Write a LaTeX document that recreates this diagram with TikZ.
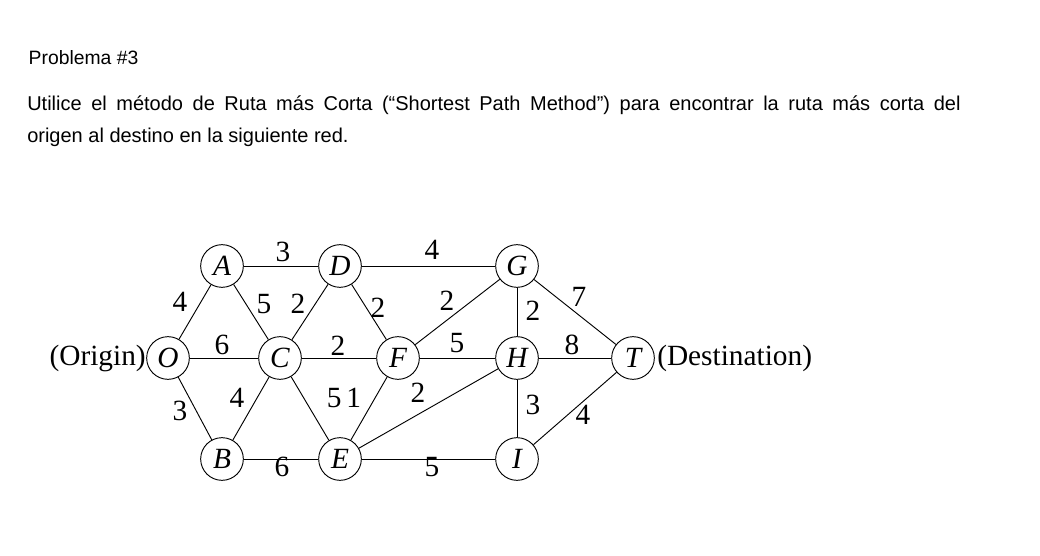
\documentclass[tikz,border=0pt]{standalone}
\usepackage{fontspec}
\setmainfont{Liberation Serif}
\newfontfamily\textsans{Liberation Sans}
\begin{document}
\begin{tikzpicture}[x=0.75pt,y=-0.75pt,
  vtx/.style={circle,draw,line width=0.7pt,minimum size=32pt,inner sep=0pt,font=\fontsize{22}{22}\selectfont\itshape},
  wt/.style={font=\fontsize{22}{22}\selectfont},
  edge/.style={line width=0.7pt}]
\useasboundingbox (0,0) rectangle (1040,556);
\node[anchor=west,font=\textsans\fontsize{14.5}{17}\selectfont] (title) at (24,58) {Problema \#3};
\node[anchor=north west,text width=700pt,align=justify,inner sep=0pt,font=\textsans\fontsize{15}{24}\selectfont] (body) at (27,96)
 {Utilice el método de Ruta más Corta (“Shortest Path Method”) para encontrar la ruta más corta del\linebreak origen al destino en la siguiente red.};
\node[vtx] (O) at (168,358) {O};
\node[vtx] (A) at (222,266) {A};
\node[vtx] (D) at (340,266) {D};
\node[vtx] (G) at (517,266) {G};
\node[vtx] (C) at (280,358) {C};
\node[vtx] (F) at (398,358) {F};
\node[vtx] (H) at (517,358) {H};
\node[vtx] (T) at (633,358) {T};
\node[vtx] (B) at (222,459) {B};
\node[vtx] (E) at (340,459) {E};
\node[vtx] (I) at (517,459) {I};
\node[wt,anchor=east,inner sep=0pt] (orig) at (146,358) {(Origin)};
\node[wt,anchor=west,inner sep=0pt] (dest) at (657,358) {(Destination)};
\foreach \a/\b in {O/A,O/C,O/B,A/D,A/C,D/G,D/C,D/F,C/F,C/B,C/E,F/G,F/H,F/E,G/H,G/T,H/T,H/I,H/E,B/E,E/I,I/T}
  \draw[edge] (\a) -- (\b);
\node[wt] (w1) at (283,252) {3};
\node[wt] (w2) at (432,250) {4};
\node[wt] (w3) at (180,302) {4};
\node[wt] (w4) at (264,304) {5};
\node[wt] (w5) at (298,304) {2};
\node[wt] (w6) at (378,308) {2};
\node[wt] (w7) at (447,301) {2};
\node[wt] (w8) at (533,311) {2};
\node[wt] (w9) at (579,297) {7};
\node[wt] (w10) at (222,345) {6};
\node[wt] (w11) at (338,346) {2};
\node[wt] (w12) at (457,343) {5};
\node[wt] (w13) at (572,345) {8};
\node[wt] (w14) at (237,398) {4};
\node[wt] (w15) at (344,398) {5\,1};
\node[wt] (w16) at (418,393) {2};
\node[wt] (w17) at (533,405) {3};
\node[wt] (w18) at (583,415) {4};
\node[wt] (w19) at (180,411) {3};
\node[wt] (w20) at (282,467) {6};
\node[wt] (w21) at (432,467) {5};
\end{tikzpicture}
\end{document}
